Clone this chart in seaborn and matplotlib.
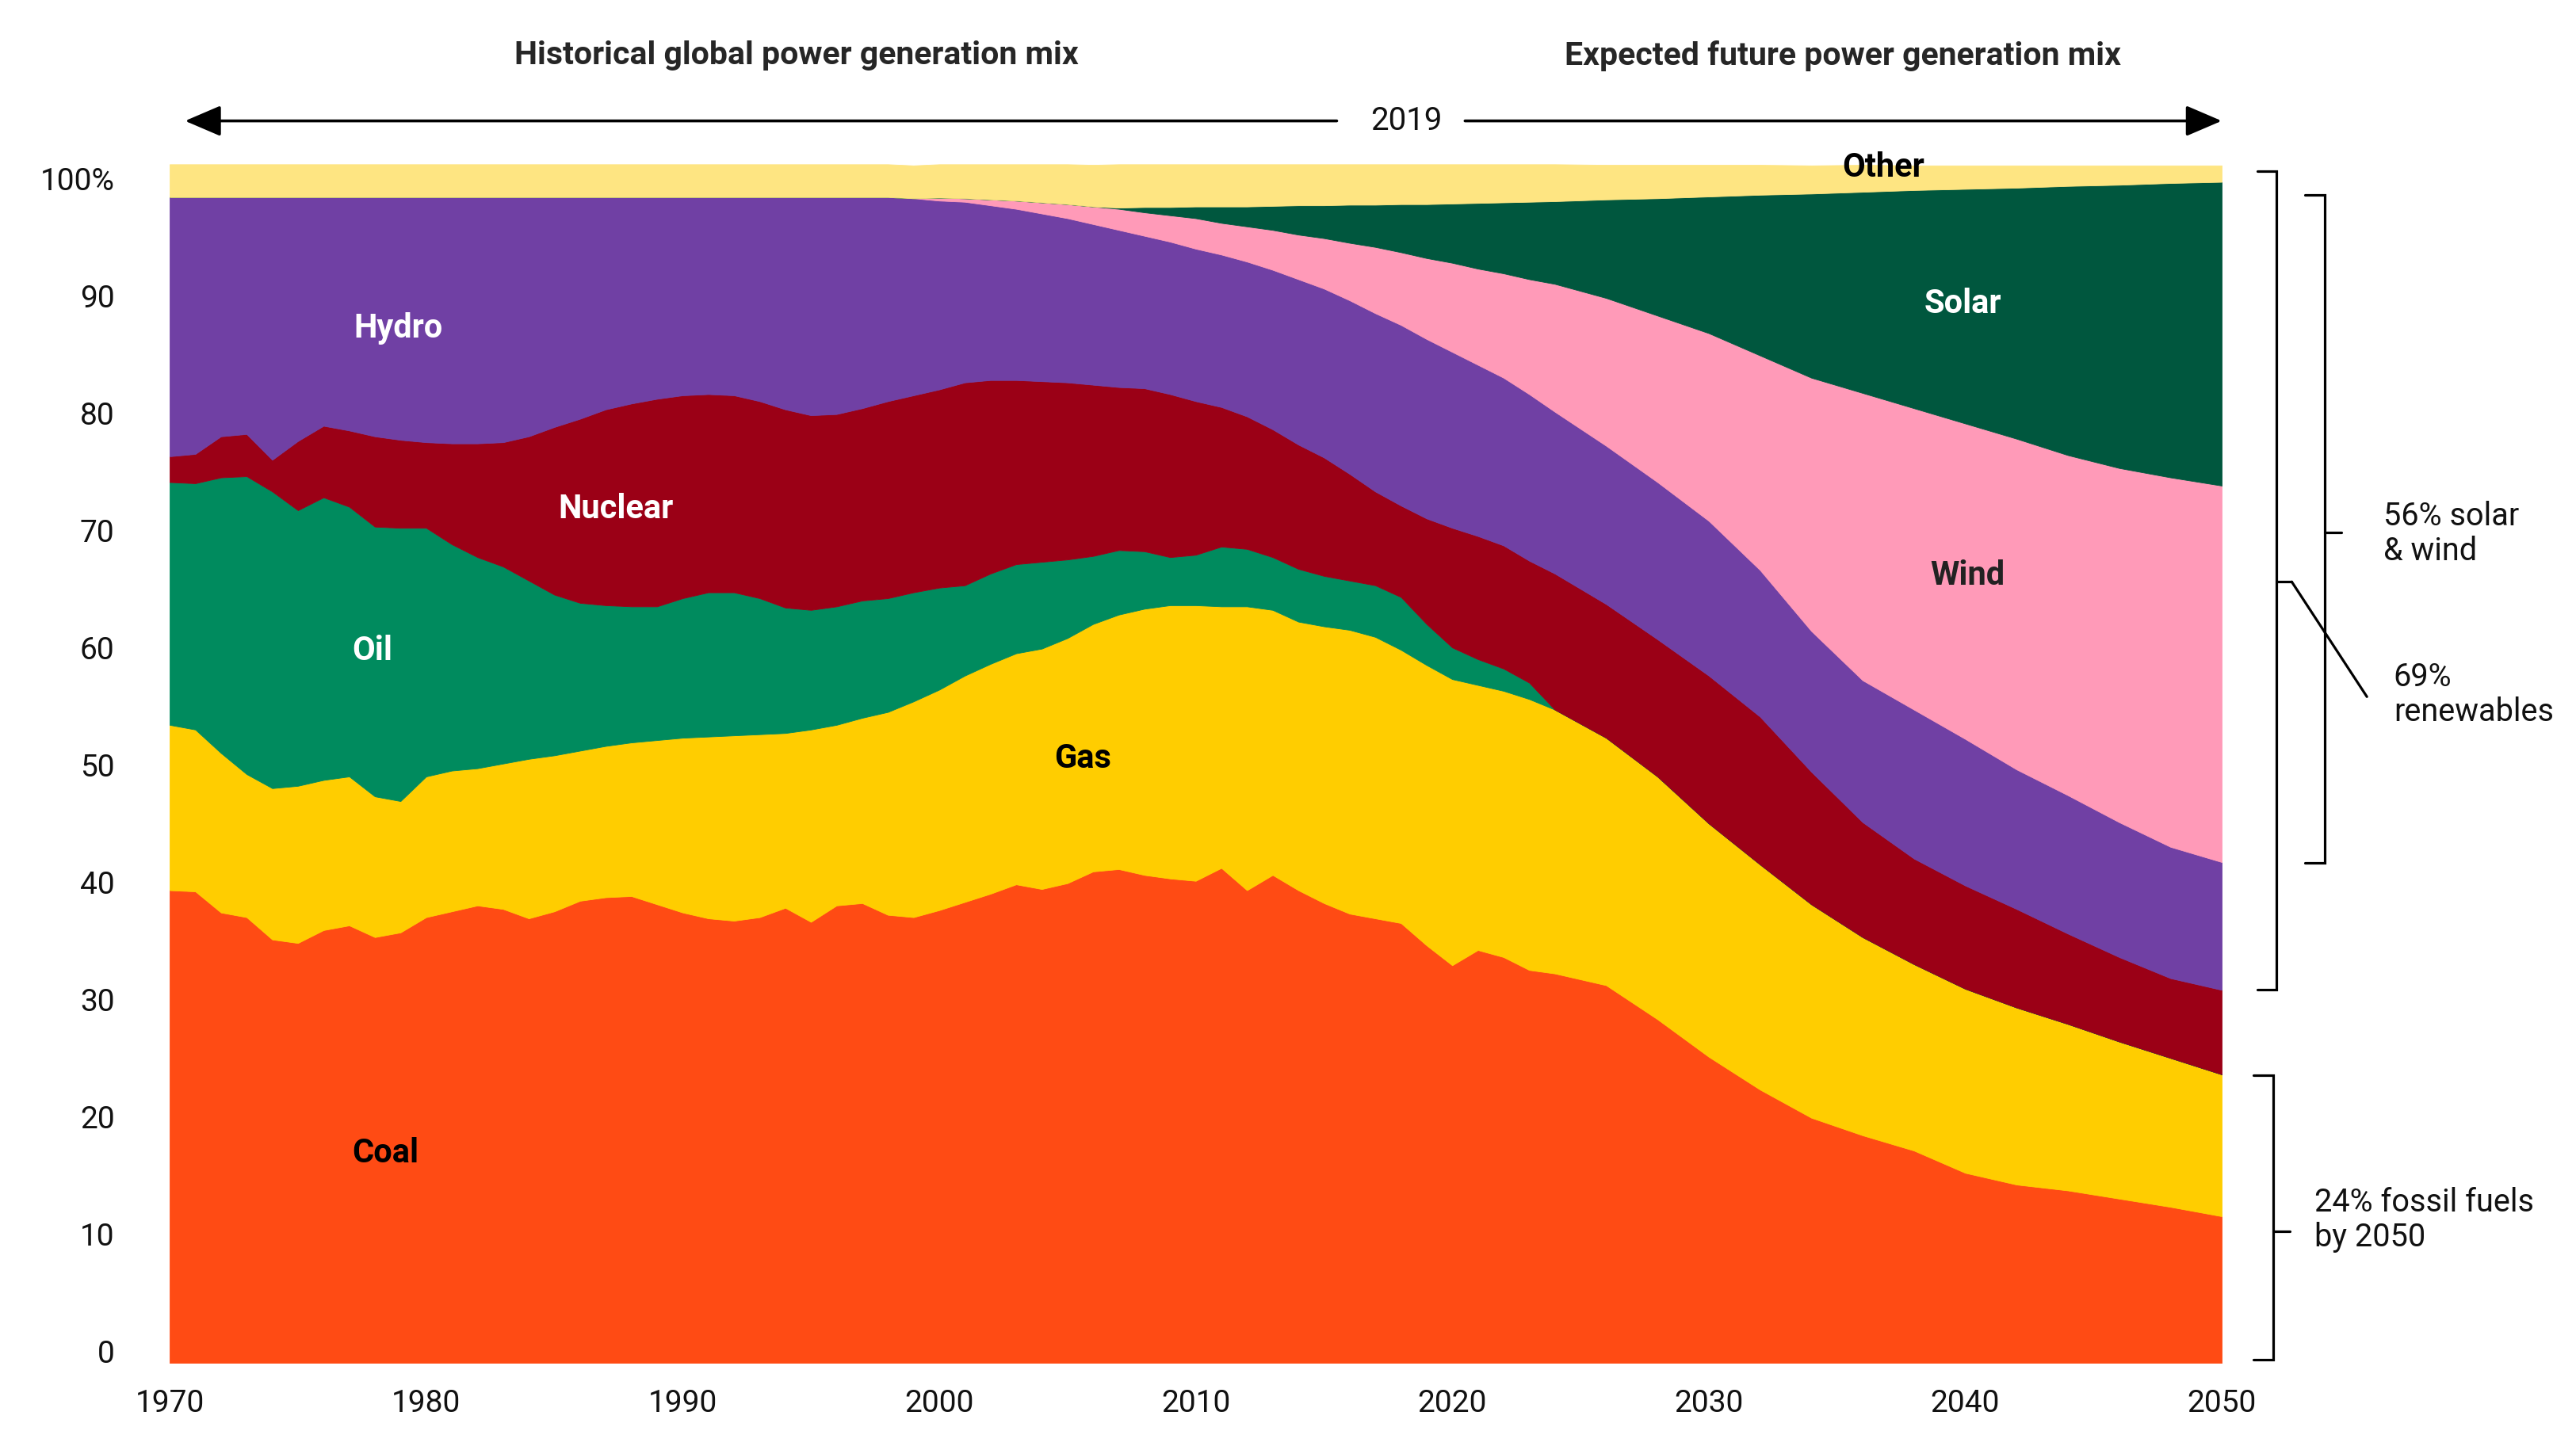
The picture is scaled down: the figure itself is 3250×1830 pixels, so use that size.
import numpy as np
import pandas as pd
import seaborn as sns
import matplotlib.pyplot as plt

# share of global power generation, % (stack tops slightly above 100 as in the source graphic)
years = list(range(1970, 2025)) + list(range(2026, 2051, 2))

coal = [40.3, 40.2, 38.4, 38.0, 36.1, 35.8, 36.9, 37.3, 36.3, 36.7,
        38.0, 38.5, 39.0, 38.7, 37.9, 38.5, 39.4, 39.7, 39.8, 39.1,
        38.4, 37.9, 37.7, 38.0, 38.8, 37.6, 39.0, 39.2, 38.2, 38.0,
        38.6, 39.3, 40.0, 40.8, 40.4, 40.9, 41.9, 42.1, 41.6, 41.3,
        41.1, 42.2, 40.3, 41.6, 40.3, 39.2, 38.3, 37.9, 37.5, 35.6,
        33.9, 35.2, 34.6, 33.5, 33.2,
        32.2, 29.3, 26.1, 23.3, 20.9, 19.4, 18.1, 16.2, 15.2, 14.7, 14.0, 13.3, 12.5]
gas = [14.1, 13.8, 13.6, 12.2, 12.9, 13.4, 12.8, 12.7, 12.0, 11.2,
       12.0, 12.0, 11.7, 12.4, 13.6, 13.3, 12.8, 12.9, 13.1, 14.0,
       14.9, 15.5, 15.8, 15.6, 14.9, 16.4, 15.4, 15.8, 17.3, 18.4,
       18.8, 19.3, 19.6, 19.7, 20.5, 20.9, 21.1, 21.7, 22.7, 23.3,
       23.5, 22.3, 24.2, 22.6, 22.9, 23.6, 24.2, 24.0, 23.3, 23.9,
       24.4, 22.6, 22.7, 23.1, 22.5,
       21.1, 20.7, 19.9, 19.2, 18.2, 16.9, 15.9, 15.7, 15.1, 14.2, 13.4, 12.7, 12.1]
oil = [20.7, 21.0, 23.5, 25.4, 25.3, 23.5, 24.1, 23.0, 23.0, 23.3,
       21.2, 19.3, 18.0, 16.8, 15.2, 13.7, 12.6, 12.0, 11.6, 11.4,
       11.9, 12.3, 12.2, 11.6, 10.7, 10.2, 10.1, 10.0, 9.7, 9.3,
       8.7, 7.7, 7.7, 7.6, 7.4, 6.7, 5.8, 5.5, 4.9, 4.1,
       4.3, 5.1, 4.9, 4.5, 4.5, 4.3, 4.2, 4.4, 4.5, 3.5,
       2.7, 2.2, 1.9, 1.4, 0.0,
       0, 0, 0, 0, 0, 0, 0, 0, 0, 0, 0, 0, 0]
nuclear = [2.2, 2.5, 3.5, 3.6, 2.7, 5.9, 6.1, 6.5, 7.7, 7.5,
           7.3, 8.6, 9.7, 10.6, 12.3, 14.3, 15.7, 16.7, 17.3, 17.7,
           17.3, 16.9, 16.8, 16.8, 16.9, 16.6, 16.4, 16.4, 16.8, 16.8,
           16.9, 17.3, 16.5, 15.7, 15.4, 15.1, 14.6, 13.9, 13.9, 13.9,
           13.1, 11.9, 11.3, 10.9, 10.6, 10.1, 9.1, 8.0, 7.8, 9.0,
           10.2, 10.5, 10.5, 10.4, 11.6,
           11.4, 11.7, 12.6, 12.6, 11.3, 9.8, 9.0, 8.8, 8.4, 7.7, 7.2, 6.8, 7.2]
hydro = [22.1, 21.9, 20.4, 20.2, 22.4, 20.8, 19.5, 19.9, 20.4, 20.7,
         20.9, 21.0, 21.0, 20.9, 20.4, 19.6, 18.9, 18.1, 17.6, 17.2,
         16.9, 16.8, 16.9, 17.4, 18.1, 18.6, 18.5, 18.0, 17.4, 16.8,
         16.1, 15.4, 14.9, 14.6, 14.3, 14.0, 13.7, 13.4, 13.0, 13.0,
         13.0, 13.0, 13.2, 13.6, 14.1, 14.4, 14.8, 15.2, 15.4, 15.3,
         15.0, 14.6, 14.3, 14.2, 13.8,
         13.5, 13.4, 13.2, 12.5, 12.0, 12.1, 12.7, 12.5, 11.9, 11.8, 11.5, 11.2, 10.9]
wind = [0] * 30 + [
        0.25, 0.3, 0.5, 0.7, 0.95, 1.2, 1.5, 1.8, 2.0, 2.25,
        2.6, 2.7, 3.0, 3.4, 3.8, 4.3, 4.9, 5.65, 6.2, 6.9,
        7.6, 8.2, 8.9, 9.8, 10.9,
        12.6, 14.2, 16.0, 18.3, 21.6, 24.5, 25.7, 26.9, 28.2, 29.0, 30.2, 31.5, 32.1]
solar = [0] * 37 + [
         0.1, 0.45, 0.7,
         1.0, 1.4, 1.7, 2.05, 2.5, 2.8, 3.25, 3.6, 4.1, 4.6,
         5.05, 5.6, 6.05, 6.6, 7.05,
         8.4, 10.0, 11.65, 13.7, 15.7, 17.15, 18.6, 20.0, 21.4, 22.95, 24.15, 25.1, 25.9]
other = [2.8] * 30 + [
         2.85, 2.9, 3.0, 3.1, 3.25, 3.4, 3.55, 3.7, 3.65, 3.65,
         3.6, 3.6, 3.6, 3.55, 3.5, 3.5, 3.45, 3.45, 3.4, 3.4,
         3.35, 3.3, 3.25, 3.2, 3.15,
         2.95, 2.85, 2.7, 2.55, 2.4, 2.3, 2.1, 2.0, 1.9, 1.75, 1.65, 1.5, 1.4]

colors = ["#FF4B14", "#FFCD00", "#008B5E", "#9B0016",
          "#7040A4", "#FF9AB8", "#00573E", "#FEE582"]

sns.set_theme(style="white")
plt.rcParams["font.family"] = ["Roboto", "DejaVu Sans"]

fig = plt.figure(figsize=(32.5, 18.3), dpi=100)
ax = fig.add_axes([0.06585, 0.0601, 0.79662, 0.8266])

ax.stackplot(years, coal, gas, oil, nuclear, hydro, wind, solar, other,
             colors=colors, linewidth=0.6, edgecolor="face")

ax.set_xlim(1970, 2050)
ax.set_ylim(0, 102.2)
sns.despine(ax=ax, left=True, bottom=True)
ax.grid(False)

ax.set_xticks(range(1970, 2051, 10), labels=[str(y) for y in range(1970, 2051, 10)])
ax.set_yticks(range(0, 101, 10),
              labels=[str(v) for v in range(0, 100, 10)] + ["100%"])
ax.tick_params(length=0, labelsize=28, colors="#111111")
ax.tick_params(axis="y", pad=50)
ax.tick_params(axis="x", pad=24)
for t in ax.get_yticklabels():
    t.set_va("baseline")

# layer labels
labels = [("Hydro", 1978.9, 88.2, "white"), ("Nuclear", 1987.4, 72.8, "white"),
          ("Oil", 1977.9, 60.7, "white"), ("Coal", 1978.4, 17.9, "black"),
          ("Gas", 2005.6, 51.5, "black"), ("Solar", 2039.9, 90.3, "white"),
          ("Wind", 2040.1, 67.1, "#222222"), ("Other", 2036.8, 101.9, "black")]
for name, x, y, c in labels:
    ax.text(x, y, name, ha="center", va="center", fontsize=30,
            fontweight="bold", color=c, clip_on=False)

# headers and the 2019 arrow
fig.text(0.3092, 0.9617, "Historical global power generation mix",
         ha="center", va="center", fontsize=29.5, fontweight="bold")
fig.text(0.7154, 0.9617, "Expected future power generation mix",
         ha="center", va="center", fontsize=29.5, fontweight="bold")

arrow = dict(arrowstyle="-|>,head_length=1.4,head_width=0.6", mutation_scale=20,
             lw=2.6, color="black", shrinkA=0, shrinkB=0)
ax.annotate("", xy=(1970.6, 105.9), xytext=(2015.5, 105.9),
            arrowprops=arrow, annotation_clip=False)
ax.annotate("", xy=(2050, 105.9), xytext=(2020.5, 105.9),
            arrowprops=arrow, annotation_clip=False)
ax.text(2018.2, 105.9, "2019", ha="center", va="center", fontsize=29, color="#111111")


def bracket(x, x_in, y0, y1, x_out, ym):
    kw = dict(color="black", lw=2.3, clip_on=False, solid_joinstyle="miter")
    ax.plot([x_in, x, x, x_in], [y1, y1, y0, y0], **kw)
    ax.plot([x, x_out], [ym, ym], **kw)


bracket(2052.14, 2051.40, 31.8, 101.6, 2052.73, 66.6)
ax.plot([2052.73, 2055.66], [66.6, 56.8], color="black", lw=2.3, clip_on=False)
bracket(2054.02, 2053.25, 42.6, 99.6, 2054.67, 70.8)
bracket(2052.01, 2051.24, 0.3, 24.5, 2052.67, 11.2)

note = dict(ha="left", va="center", fontsize=28.5, color="#111111", linespacing=1.15)
ax.text(2056.3, 70.7, "56% solar\n& wind", **note)
ax.text(2056.7, 57.0, "69%\nrenewables", **note)
ax.text(2053.6, 12.2, "24% fossil fuels\nby 2050", **note)

fig.savefig("out.png", dpi=100)
